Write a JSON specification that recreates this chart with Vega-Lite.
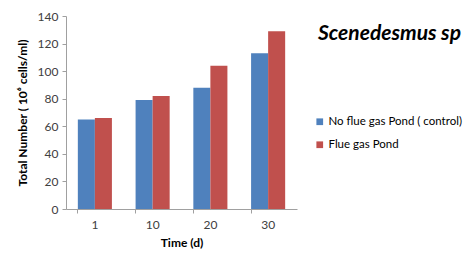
{
  "$schema": "https://vega.github.io/schema/vega-lite/v6.json",
  "width": 231,
  "height": 193,
  "autosize": "none",
  "padding": {"left": 66, "top": 16, "right": 177, "bottom": 58},
  "background": "white",
  "title": {
    "text": "Scenedesmus sp",
    "anchor": "start",
    "frame": "group",
    "dx": 252,
    "dy": 38,
    "font": "Lato",
    "fontSize": 21,
    "fontWeight": "bold",
    "fontStyle": "italic",
    "color": "#000000"
  },
  "data": {
    "values": [
      {"time": "1", "series": "No flue gas Pond ( control)", "value": 65},
      {"time": "1", "series": "Flue gas Pond", "value": 66},
      {"time": "10", "series": "No flue gas Pond ( control)", "value": 79},
      {"time": "10", "series": "Flue gas Pond", "value": 82},
      {"time": "20", "series": "No flue gas Pond ( control)", "value": 88},
      {"time": "20", "series": "Flue gas Pond", "value": 104},
      {"time": "30", "series": "No flue gas Pond ( control)", "value": 113},
      {"time": "30", "series": "Flue gas Pond", "value": 129}
    ]
  },
  "mark": {"type": "bar"},
  "encoding": {
    "x": {
      "field": "time",
      "type": "nominal",
      "sort": ["1", "10", "20", "30"],
      "scale": {"paddingInner": 0.41, "paddingOuter": 0.205},
      "axis": {
        "title": "Time (d)",
        "labelAngle": 0,
        "bandPosition": 0,
        "labelFont": "Lato",
        "labelFontSize": 12,
        "labelColor": "#404040",
        "labelPadding": 6,
        "titleFont": "Lato",
        "titleFontSize": 12,
        "titleFontWeight": "bold",
        "titleColor": "#000000",
        "titlePadding": 7,
        "domainColor": "#a0a0a0",
        "tickColor": "#a0a0a0",
        "tickSize": 4
      }
    },
    "xOffset": {
      "field": "series",
      "type": "nominal",
      "sort": ["No flue gas Pond ( control)", "Flue gas Pond"]
    },
    "y": {
      "field": "value",
      "type": "quantitative",
      "scale": {"domain": [0, 140]},
      "axis": {
        "title": "Total Number ( 10⁶ cells/ml)",
        "values": [0, 20, 40, 60, 80, 100, 120, 140],
        "grid": false,
        "labelFont": "Lato",
        "labelFontSize": 12,
        "labelColor": "#404040",
        "labelPadding": 4,
        "titleFont": "Lato",
        "titleFontSize": 12,
        "titleFontWeight": "bold",
        "titleColor": "#000000",
        "titlePadding": 8,
        "domainColor": "#a0a0a0",
        "tickColor": "#a0a0a0",
        "tickSize": 4
      }
    },
    "color": {
      "field": "series",
      "type": "nominal",
      "sort": ["No flue gas Pond ( control)", "Flue gas Pond"],
      "scale": {
        "domain": ["No flue gas Pond ( control)", "Flue gas Pond"],
        "range": ["#4F81BD", "#C0504D"]
      },
      "legend": {
        "title": null,
        "orient": "none",
        "legendX": 248,
        "legendY": 100,
        "symbolType": "square",
        "symbolSize": 45,
        "symbolStrokeWidth": 0,
        "labelFont": "Lato",
        "labelFontSize": 11.5,
        "labelColor": "#000000",
        "rowPadding": 10,
        "labelOffset": 3
      }
    }
  },
  "config": {
    "view": {"stroke": null}
  }
}
